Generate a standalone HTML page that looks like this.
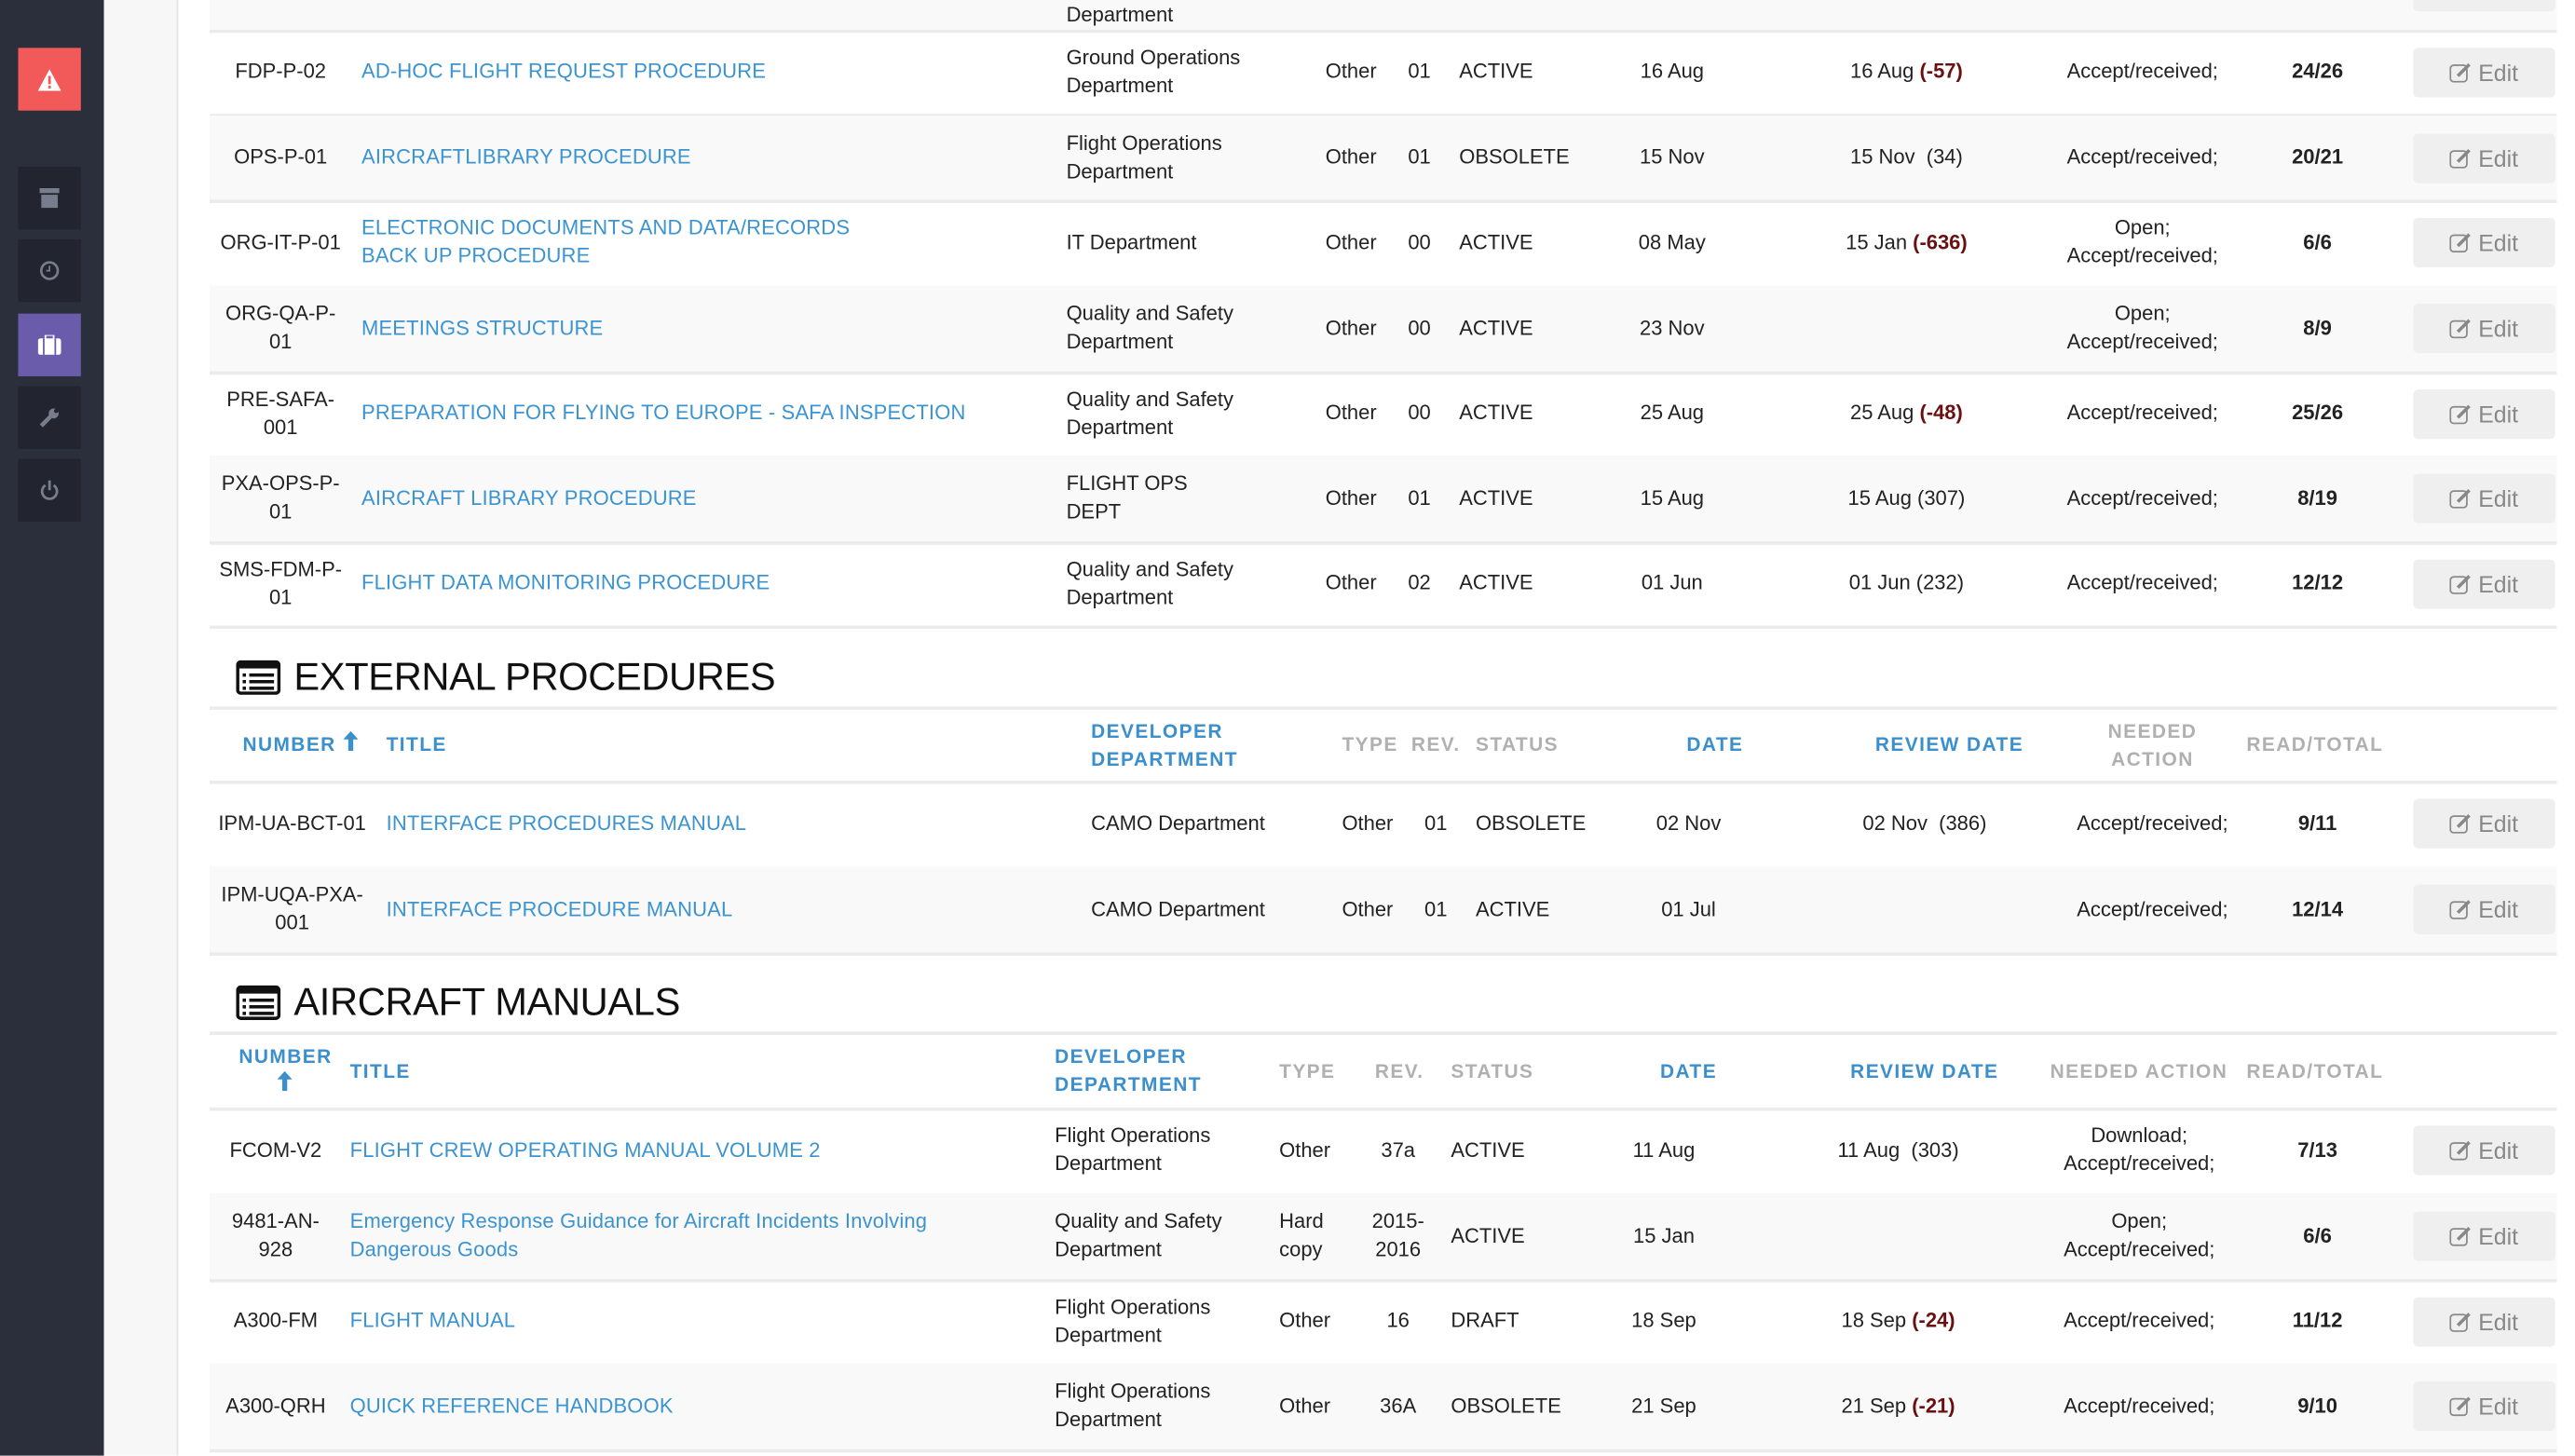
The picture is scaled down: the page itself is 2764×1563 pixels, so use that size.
<!DOCTYPE html>
<html><head><meta charset="utf-8">
<style>
html,body{margin:0;padding:0;width:2764px;height:1562px;overflow:hidden;background:#fff}
#w{position:absolute;left:0;top:0;width:1560px;height:882px;transform:scale(1.77179);transform-origin:0 0;font-family:"Liberation Sans",Arial,sans-serif;font-size:12.4px;color:#222;background:#fff;overflow:hidden}
.sb{position:absolute;left:0;top:0;width:63px;height:882px;background:#2b2f3b}
.gc{position:absolute;left:63px;top:0;width:44px;height:882px;background:#f7f7f7;border-right:1px solid #e6e6e6}
.ib{position:absolute;left:11px;width:38px;height:38px;background:#22252f;display:flex;align-items:center;justify-content:center}
.r{position:absolute;left:127px;width:1422px;border-bottom:2px solid #ebebeb;box-sizing:border-box}
.s{background:#f9f9f9}
.c{position:absolute;top:0;height:100%;display:flex;align-items:center;line-height:17px}
.m{justify-content:center;text-align:center}
a{color:#3b93d0;text-decoration:none;letter-spacing:.1px}
.red{color:#6b1010;font-weight:bold}
.b{font-weight:bold}
.h{font-weight:bold;font-size:11.8px;letter-spacing:.8px;color:#3b8fcc;line-height:17px}
.g{color:#b0b0b0}
.ed{position:absolute;left:1335px;width:86px;height:30px;top:50%;margin-top:-15px;background:#efefef;border-radius:3px;color:#888;font-size:14px;display:flex;align-items:center;justify-content:center}
.ed svg{margin-right:4px}
.sec{position:absolute;left:143px;font-size:23.5px;color:#111;display:flex;align-items:center;font-family:"Liberation Sans",Arial,sans-serif;letter-spacing:-.2px}
.sec svg{margin-right:8px}
.ln{position:absolute;left:127px;width:1422px;height:2px;background:#ebebeb}
</style></head><body><div id="w">
<div class="sb"></div><div class="gc"></div>
<div style="position:absolute;left:11px;top:29px;width:38px;height:38px;background:#f25a5a;display:flex;align-items:center;justify-content:center"><svg width="14" height="13" viewBox="0 0 14 13"><path d="M7 0L14 13H0Z" fill="#fff"/><rect x="6.2" y="4" width="1.6" height="5" fill="#f25a5a"/><rect x="6.2" y="10" width="1.6" height="1.6" fill="#f25a5a"/></svg></div>
<div class="ib" style="top:101px"><svg width="12" height="12"><rect x="0" y="0" width="12" height="3" fill="#777d8c"/><rect x="1" y="4" width="10" height="8" fill="#777d8c"/></svg></div>
<div class="ib" style="top:145px"><svg width="12" height="12"><circle cx="6" cy="6" r="5" fill="none" stroke="#777d8c" stroke-width="1.5"/><path d="M6 3V6H4" stroke="#777d8c" fill="none"/></svg></div>
<div class="ib" style="top:190px;background:#6a5caa"><svg width="14" height="12"><rect x="0" y="2" width="14" height="10" rx="1.5" fill="#fff"/><rect x="4.5" y="0" width="5" height="3" fill="none" stroke="#fff"/><rect x="3" y="2" width="1" height="10" fill="#6a5caa"/><rect x="10" y="2" width="1" height="10" fill="#6a5caa"/></svg></div>
<div class="ib" style="top:234px"><svg width="12" height="12"><path d="M1 11L7 5" stroke="#777d8c" stroke-width="2.5"/><circle cx="8.5" cy="3.5" r="3" fill="#777d8c"/><circle cx="10" cy="2" r="1.3" fill="#22252f"/></svg></div>
<div class="ib" style="top:278px"><svg width="12" height="12"><path d="M3.5 3A4.5 4.5 0 1 0 8.5 3" fill="none" stroke="#777d8c" stroke-width="1.6"/><path d="M6 0V6" stroke="#777d8c" stroke-width="1.6"/></svg></div>

<div class="r s" style="top:-34px;height:54px"><div class="c" style="left:519px;align-items:flex-end;padding-bottom:10px">Department</div><div class="ed"></div></div>

<div class="r" style="top:18px;height:53px"><div class="c m" style="left:3px;width:80px">FDP-P-02</div><div class="c" style="left:92px"><a>AD-HOC FLIGHT REQUEST PROCEDURE</a></div><div class="c" style="left:519px">Ground Operations<br>Department</div><div class="c" style="left:676px">Other</div><div class="c" style="left:726px">01</div><div class="c" style="left:757px">ACTIVE</div><div class="c m" style="left:846px;width:80px">16 Aug</div><div class="c m" style="left:948px;width:160px">16 Aug&nbsp;<span class="red">(-57)</span></div><div class="c m" style="left:1101px;width:140px">Accept/received;</div><div class="c m b" style="left:1247px;width:60px">24/26</div><div class="ed"><svg width="13" height="12"><rect x=".5" y="1.5" width="10" height="10" rx="2" fill="none" stroke="#888"/><path d="M5 8L12 1" stroke="#888" stroke-width="2"/></svg>Edit</div></div>

<div class="r s" style="top:70px;height:53px"><div class="c m" style="left:3px;width:80px">OPS-P-01</div><div class="c" style="left:92px"><a>AIRCRAFTLIBRARY PROCEDURE</a></div><div class="c" style="left:519px">Flight Operations<br>Department</div><div class="c" style="left:676px">Other</div><div class="c" style="left:726px">01</div><div class="c" style="left:757px">OBSOLETE</div><div class="c m" style="left:846px;width:80px">15 Nov</div><div class="c m" style="left:948px;width:160px">15 Nov&nbsp; (34)</div><div class="c m" style="left:1101px;width:140px">Accept/received;</div><div class="c m b" style="left:1247px;width:60px">20/21</div><div class="ed"><svg width="13" height="12"><rect x=".5" y="1.5" width="10" height="10" rx="2" fill="none" stroke="#888"/><path d="M5 8L12 1" stroke="#888" stroke-width="2"/></svg>Edit</div></div>

<div class="r" style="top:121px;height:54px"><div class="c m" style="left:3px;width:80px">ORG-IT-P-01</div><div class="c" style="left:92px"><a>ELECTRONIC DOCUMENTS AND DATA/RECORDS<br>BACK UP PROCEDURE</a></div><div class="c" style="left:519px">IT Department</div><div class="c" style="left:676px">Other</div><div class="c" style="left:726px">00</div><div class="c" style="left:757px">ACTIVE</div><div class="c m" style="left:846px;width:80px">08 May</div><div class="c m" style="left:948px;width:160px">15 Jan&nbsp;<span class="red">(-636)</span></div><div class="c m" style="left:1101px;width:140px">Open;<br>Accept/received;</div><div class="c m b" style="left:1247px;width:60px">6/6</div><div class="ed"><svg width="13" height="12"><rect x=".5" y="1.5" width="10" height="10" rx="2" fill="none" stroke="#888"/><path d="M5 8L12 1" stroke="#888" stroke-width="2"/></svg>Edit</div></div>

<div class="r s" style="top:173px;height:54px"><div class="c m" style="left:3px;width:80px">ORG-QA-P-<br>01</div><div class="c" style="left:92px"><a>MEETINGS STRUCTURE</a></div><div class="c" style="left:519px">Quality and Safety<br>Department</div><div class="c" style="left:676px">Other</div><div class="c" style="left:726px">00</div><div class="c" style="left:757px">ACTIVE</div><div class="c m" style="left:846px;width:80px">23 Nov</div><div class="c m" style="left:1101px;width:140px">Open;<br>Accept/received;</div><div class="c m b" style="left:1247px;width:60px">8/9</div><div class="ed"><svg width="13" height="12"><rect x=".5" y="1.5" width="10" height="10" rx="2" fill="none" stroke="#888"/><path d="M5 8L12 1" stroke="#888" stroke-width="2"/></svg>Edit</div></div>

<div class="r" style="top:225px;height:53px"><div class="c m" style="left:3px;width:80px">PRE-SAFA-<br>001</div><div class="c" style="left:92px"><a>PREPARATION FOR FLYING TO EUROPE - SAFA INSPECTION</a></div><div class="c" style="left:519px">Quality and Safety<br>Department</div><div class="c" style="left:676px">Other</div><div class="c" style="left:726px">00</div><div class="c" style="left:757px">ACTIVE</div><div class="c m" style="left:846px;width:80px">25 Aug</div><div class="c m" style="left:948px;width:160px">25 Aug&nbsp;<span class="red">(-48)</span></div><div class="c m" style="left:1101px;width:140px">Accept/received;</div><div class="c m b" style="left:1247px;width:60px">25/26</div><div class="ed"><svg width="13" height="12"><rect x=".5" y="1.5" width="10" height="10" rx="2" fill="none" stroke="#888"/><path d="M5 8L12 1" stroke="#888" stroke-width="2"/></svg>Edit</div></div>

<div class="r s" style="top:276px;height:54px"><div class="c m" style="left:3px;width:80px">PXA-OPS-P-<br>01</div><div class="c" style="left:92px"><a>AIRCRAFT LIBRARY PROCEDURE</a></div><div class="c" style="left:519px">FLIGHT OPS<br>DEPT</div><div class="c" style="left:676px">Other</div><div class="c" style="left:726px">01</div><div class="c" style="left:757px">ACTIVE</div><div class="c m" style="left:846px;width:80px">15 Aug</div><div class="c m" style="left:948px;width:160px">15 Aug (307)</div><div class="c m" style="left:1101px;width:140px">Accept/received;</div><div class="c m b" style="left:1247px;width:60px">8/19</div><div class="ed"><svg width="13" height="12"><rect x=".5" y="1.5" width="10" height="10" rx="2" fill="none" stroke="#888"/><path d="M5 8L12 1" stroke="#888" stroke-width="2"/></svg>Edit</div></div>

<div class="r" style="top:328px;height:53px"><div class="c m" style="left:3px;width:80px">SMS-FDM-P-<br>01</div><div class="c" style="left:92px"><a>FLIGHT DATA MONITORING PROCEDURE</a></div><div class="c" style="left:519px">Quality and Safety<br>Department</div><div class="c" style="left:676px">Other</div><div class="c" style="left:726px">02</div><div class="c" style="left:757px">ACTIVE</div><div class="c m" style="left:846px;width:80px">01 Jun</div><div class="c m" style="left:948px;width:160px">01 Jun (232)</div><div class="c m" style="left:1101px;width:140px">Accept/received;</div><div class="c m b" style="left:1247px;width:60px">12/12</div><div class="ed"><svg width="13" height="12"><rect x=".5" y="1.5" width="10" height="10" rx="2" fill="none" stroke="#888"/><path d="M5 8L12 1" stroke="#888" stroke-width="2"/></svg>Edit</div></div>

<div class="sec" style="top:394px;height:32px"><svg width="27" height="21" viewBox="0 0 27 21"><rect x="1" y="1" width="25" height="19" rx="2" fill="none" stroke="#111" stroke-width="2"/><rect x="1" y="1" width="25" height="4" fill="#111"/><rect x="4" y="8" width="2" height="2" fill="#111"/><rect x="8" y="8" width="15" height="2" fill="#111"/><rect x="4" y="12" width="2" height="2" fill="#111"/><rect x="8" y="12" width="15" height="2" fill="#111"/><rect x="4" y="16" width="2" height="2" fill="#111"/><rect x="8" y="16" width="15" height="2" fill="#111"/></svg>EXTERNAL PROCEDURES</div>
<div class="ln" style="top:428px"></div>
<div class="r" style="top:430px;height:45px"><div class="c h" style="left:20px"><div>NUMBER <svg width="9" height="12" viewBox="0 0 9 12"><path d="M4.5 0L9 5H6V12H3V5H0Z" fill="#3b8fcc"/></svg></div></div><div class="c h" style="left:107px">TITLE</div><div class="c h" style="left:534px">DEVELOPER<br>DEPARTMENT</div><div class="c h g" style="left:686px">TYPE</div><div class="c h g" style="left:728px">REV.</div><div class="c h g" style="left:767px">STATUS</div><div class="c h m" style="left:872px;width:80px">DATE</div><div class="c h m" style="left:974px;width:160px">REVIEW DATE</div><div class="c h g m" style="left:1127px;width:100px">NEEDED<br>ACTION</div><div class="c h g" style="left:1234px">READ/TOTAL</div></div>

<div class="r" style="top:473px;height:54px"><div class="c m" style="left:0;width:100px">IPM-UA-BCT-01</div><div class="c" style="left:107px"><a>INTERFACE PROCEDURES MANUAL</a></div><div class="c" style="left:534px">CAMO Department</div><div class="c" style="left:686px">Other</div><div class="c" style="left:736px">01</div><div class="c" style="left:767px">OBSOLETE</div><div class="c m" style="left:856px;width:80px">02 Nov</div><div class="c m" style="left:959px;width:160px">02 Nov&nbsp; (386)</div><div class="c m" style="left:1107px;width:140px">Accept/received;</div><div class="c m b" style="left:1247px;width:60px">9/11</div><div class="ed"><svg width="13" height="12"><rect x=".5" y="1.5" width="10" height="10" rx="2" fill="none" stroke="#888"/><path d="M5 8L12 1" stroke="#888" stroke-width="2"/></svg>Edit</div></div>

<div class="r s" style="top:525px;height:54px"><div class="c m" style="left:0;width:100px">IPM-UQA-PXA-<br>001</div><div class="c" style="left:107px"><a>INTERFACE PROCEDURE MANUAL</a></div><div class="c" style="left:534px">CAMO Department</div><div class="c" style="left:686px">Other</div><div class="c" style="left:736px">01</div><div class="c" style="left:767px">ACTIVE</div><div class="c m" style="left:856px;width:80px">01 Jul</div><div class="c m" style="left:1107px;width:140px">Accept/received;</div><div class="c m b" style="left:1247px;width:60px">12/14</div><div class="ed"><svg width="13" height="12"><rect x=".5" y="1.5" width="10" height="10" rx="2" fill="none" stroke="#888"/><path d="M5 8L12 1" stroke="#888" stroke-width="2"/></svg>Edit</div></div>

<div class="sec" style="top:591px;height:32px"><svg width="27" height="21" viewBox="0 0 27 21"><rect x="1" y="1" width="25" height="19" rx="2" fill="none" stroke="#111" stroke-width="2"/><rect x="1" y="1" width="25" height="4" fill="#111"/><rect x="4" y="8" width="2" height="2" fill="#111"/><rect x="8" y="8" width="15" height="2" fill="#111"/><rect x="4" y="12" width="2" height="2" fill="#111"/><rect x="8" y="12" width="15" height="2" fill="#111"/><rect x="4" y="16" width="2" height="2" fill="#111"/><rect x="8" y="16" width="15" height="2" fill="#111"/></svg>AIRCRAFT MANUALS</div>
<div class="ln" style="top:625px"></div>
<div class="r" style="top:627px;height:46px"><div class="c h m" style="left:6px;width:80px"><div>NUMBER<br><svg width="9" height="12" viewBox="0 0 9 12"><path d="M4.5 0L9 5H6V12H3V5H0Z" fill="#3b8fcc"/></svg></div></div><div class="c h" style="left:85px">TITLE</div><div class="c h" style="left:512px">DEVELOPER<br>DEPARTMENT</div><div class="c h g" style="left:648px">TYPE</div><div class="c h g" style="left:706px">REV.</div><div class="c h g" style="left:752px">STATUS</div><div class="c h m" style="left:856px;width:80px">DATE</div><div class="c h" style="left:994px">REVIEW DATE</div><div class="c h g" style="left:1115px">NEEDED ACTION</div><div class="c h g" style="left:1234px">READ/TOTAL</div></div>

<div class="r" style="top:671px;height:54px"><div class="c m" style="left:0;width:80px">FCOM-V2</div><div class="c" style="left:85px"><a>FLIGHT CREW OPERATING MANUAL VOLUME 2</a></div><div class="c" style="left:512px">Flight Operations<br>Department</div><div class="c" style="left:648px">Other</div><div class="c m" style="left:695px;width:50px">37a</div><div class="c" style="left:752px">ACTIVE</div><div class="c m" style="left:841px;width:80px">11 Aug</div><div class="c m" style="left:943px;width:160px">11 Aug&nbsp; (303)</div><div class="c m" style="left:1099px;width:140px">Download;<br>Accept/received;</div><div class="c m b" style="left:1247px;width:60px">7/13</div><div class="ed"><svg width="13" height="12"><rect x=".5" y="1.5" width="10" height="10" rx="2" fill="none" stroke="#888"/><path d="M5 8L12 1" stroke="#888" stroke-width="2"/></svg>Edit</div></div>

<div class="r s" style="top:723px;height:54px"><div class="c m" style="left:0;width:80px">9481-AN-<br>928</div><div class="c" style="left:85px"><a>Emergency Response Guidance for Aircraft Incidents Involving<br>Dangerous Goods</a></div><div class="c" style="left:512px">Quality and Safety<br>Department</div><div class="c" style="left:648px">Hard<br>copy</div><div class="c m" style="left:695px;width:50px">2015-<br>2016</div><div class="c" style="left:752px">ACTIVE</div><div class="c m" style="left:841px;width:80px">15 Jan</div><div class="c m" style="left:1099px;width:140px">Open;<br>Accept/received;</div><div class="c m b" style="left:1247px;width:60px">6/6</div><div class="ed"><svg width="13" height="12"><rect x=".5" y="1.5" width="10" height="10" rx="2" fill="none" stroke="#888"/><path d="M5 8L12 1" stroke="#888" stroke-width="2"/></svg>Edit</div></div>

<div class="r" style="top:775px;height:53px"><div class="c m" style="left:0;width:80px">A300-FM</div><div class="c" style="left:85px"><a>FLIGHT MANUAL</a></div><div class="c" style="left:512px">Flight Operations<br>Department</div><div class="c" style="left:648px">Other</div><div class="c m" style="left:695px;width:50px">16</div><div class="c" style="left:752px">DRAFT</div><div class="c m" style="left:841px;width:80px">18 Sep</div><div class="c m" style="left:943px;width:160px">18 Sep&nbsp;<span class="red">(-24)</span></div><div class="c m" style="left:1099px;width:140px">Accept/received;</div><div class="c m b" style="left:1247px;width:60px">11/12</div><div class="ed"><svg width="13" height="12"><rect x=".5" y="1.5" width="10" height="10" rx="2" fill="none" stroke="#888"/><path d="M5 8L12 1" stroke="#888" stroke-width="2"/></svg>Edit</div></div>

<div class="r s" style="top:826px;height:54px"><div class="c m" style="left:0;width:80px">A300-QRH</div><div class="c" style="left:85px"><a>QUICK REFERENCE HANDBOOK</a></div><div class="c" style="left:512px">Flight Operations<br>Department</div><div class="c" style="left:648px">Other</div><div class="c m" style="left:695px;width:50px">36A</div><div class="c" style="left:752px">OBSOLETE</div><div class="c m" style="left:841px;width:80px">21 Sep</div><div class="c m" style="left:943px;width:160px">21 Sep&nbsp;<span class="red">(-21)</span></div><div class="c m" style="left:1099px;width:140px">Accept/received;</div><div class="c m b" style="left:1247px;width:60px">9/10</div><div class="ed"><svg width="13" height="12"><rect x=".5" y="1.5" width="10" height="10" rx="2" fill="none" stroke="#888"/><path d="M5 8L12 1" stroke="#888" stroke-width="2"/></svg>Edit</div></div>
</div></body></html>
